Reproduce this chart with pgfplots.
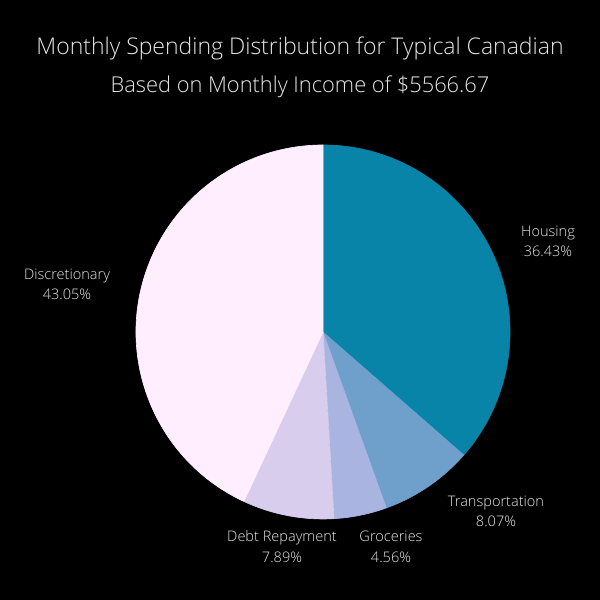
\documentclass[border=0pt]{standalone}
\usepackage{pgfplots}
\pgfplotsset{compat=1.18}
\usepackage{pgfplotstable}
\usepackage{fontspec}
\setmainfont{Open Sans Light}
\definecolor{c0}{HTML}{0784A8}
\definecolor{c1}{HTML}{6EA0CB}
\definecolor{c2}{HTML}{A9B4E0}
\definecolor{c3}{HTML}{D8CDEC}
\definecolor{c4}{HTML}{FFEEFD}
\definecolor{txt}{HTML}{E6E6E6}
\pgfplotstableread[col sep=comma]{
name,value
Housing,36.43
Transportation,8.07
Groceries,4.56
Debt Repayment,7.89
Discretionary,43.05
}\piedata
\begin{document}
\begin{tikzpicture}
\def\cum{90}
\pgfplotsforeachungrouped \i in {0,...,4}{%
  \pgfplotstablegetelem{\i}{value}\of\piedata
  \pgfmathsetmacro\endang{\cum-3.6*\pgfplotsretval}%
  \expandafter\xdef\csname sa\i\endcsname{\cum}%
  \expandafter\xdef\csname ea\i\endcsname{\endang}%
  \xdef\cum{\endang}%
}
\begin{axis}[scale only axis, width=10cm, height=10cm,
  xmin=0, xmax=600, ymin=0, ymax=600, hide axis, clip=false]
\fill[black] (axis cs:0,0) rectangle (axis cs:600,600);
\pgfplotsinvokeforeach{0,...,4}{
  \filldraw[fill=c#1, draw=c#1, line width=0.3pt, line join=round] (axis cs:323,268) -- (axis cs:{323+187*cos(\csname sa#1\endcsname)},{268+187*sin(\csname sa#1\endcsname)})
    arc[start angle=\csname sa#1\endcsname, end angle=\csname ea#1\endcsname, radius=3.1167cm] -- cycle;
}
\node[anchor=base, text=txt, font=\fontsize{10.9}{13}\selectfont] at (axis cs:300,545) {Monthly Spending Distribution for Typical Canadian};
\node[anchor=base, text=txt, font=\fontsize{10.35}{13}\selectfont] at (axis cs:300,507) {Based on Monthly Income of \$5566.67};
\tikzset{lab/.style={anchor=base, text=txt, font=\fontsize{6.9}{8}\selectfont}}
\node[lab] at (axis cs:548,363) {Housing};
\node[lab] at (axis cs:548,343) {36.43\%};
\node[lab] at (axis cs:67,320) {Discretionary};
\node[lab] at (axis cs:67,300) {43.05\%};
\node[lab] at (axis cs:496,93) {Transportation};
\node[lab] at (axis cs:496,73) {8.07\%};
\node[lab] at (axis cs:391,58) {Groceries};
\node[lab] at (axis cs:391,37) {4.56\%};
\node[lab] at (axis cs:282,58) {Debt Repayment};
\node[lab] at (axis cs:282,37) {7.89\%};
\end{axis}
\end{tikzpicture}
\end{document}
